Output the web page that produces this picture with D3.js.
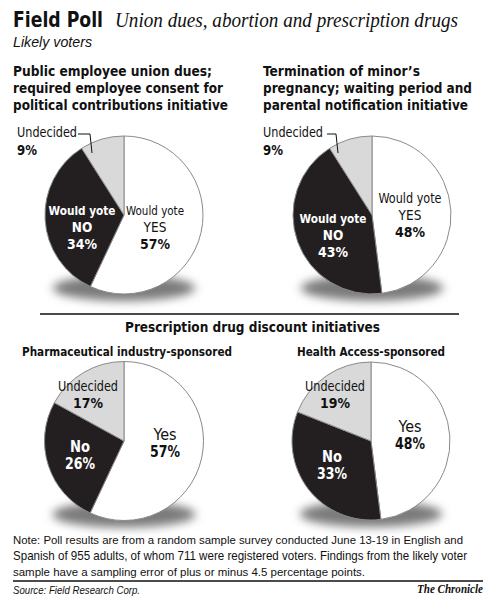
<!DOCTYPE html>
<html><head><meta charset="utf-8">
<script src="https://cdn.jsdelivr.net/npm/d3@7"></script>
<style>
html,body{margin:0;padding:0;background:#fff;}
svg{display:block;}
</style></head>
<body>
<svg id="chart" width="494" height="602"></svg>
<script>
// ---------- DATA ----------
const categories = ["Yes", "No", "Undecided"];
const unionDues = [57, 34, 9];
const minorPregnancy = [48, 43, 9];
const pharmaSponsored = [57, 26, 17];
const healthAccess = [48, 33, 19];

const unionTitle = ["Public employee union dues;", "required employee consent for", "political contributions initiative"];
const pregnancyTitle = ["Termination of minor\u2019s", "pregnancy; waiting period and", "parental notification initiative"];
const pharmaTitle = ["Pharmaceutical industry-sponsored"];
const healthTitle = ["Health Access-sponsored"];

const topLabels = { Yes: ["Would yote", "YES"], No: ["Would yote", "NO"], Undecided: ["Undecided"] };
const bottomLabels = { Yes: ["Yes"], No: ["No"], Undecided: ["Undecided"] };

const noteLines = [
  "Note: Poll results are from a random sample survey conducted June 13-19 in English and",
  "Spanish of 955 adults, of whom 711 were registered voters. Findings from the likely voter",
  "sample have a sampling error of plus or minus 4.5 percentage points."
];

// ---------- LAYOUT / STYLE ----------
const NARROW = "'Liberation Sans Narrow','Arial Narrow','DejaVu Sans Condensed','Liberation Sans',sans-serif";
const SERIF = "'Liberation Serif','DejaVu Serif',serif";
const SANS = "'Liberation Sans',Arial,sans-serif";
const colors = { Yes: "#ffffff", No: "#231f20", Undecided: "#d9d9d9" };
const textColors = { Yes: "#111", No: "#fff", Undecided: "#111" };

const svg = d3.select("#chart");
const defs = svg.append("defs");
const blur = defs.append("filter").attr("id", "shadowBlur").attr("x", "-30%").attr("y", "-100%").attr("width", "160%").attr("height", "300%");
blur.append("feGaussianBlur").attr("stdDeviation", 5);

function txt(g, s, x, y, o) {
  const size = o.size || 14;
  const t = g.append("text").attr("x", x).attr("y", y).text(s)
    .attr("font-family", o.family || NARROW)
    .attr("font-size", size)
    .attr("font-weight", o.weight || "normal")
    .attr("font-style", o.style || "normal")
    .attr("fill", o.fill || "#111")
    .attr("text-anchor", o.anchor || "start");
  if (o.width) {
    const nat = t.node().getComputedTextLength();
    const maxSq = o.maxSq || 1.08;
    if (nat > o.width * maxSq) {
      t.attr("font-size", size * (o.width * maxSq) / nat);
    }
    t.attr("textLength", o.width).attr("lengthAdjust", "spacingAndGlyphs");
  }
  return t;
}

// Header
txt(svg, "Field Poll", 13, 27, { size: 26, weight: "bold", width: 90 });
txt(svg, "Union dues, abortion and prescription drugs", 115, 27, { family: SERIF, size: 21, style: "italic", width: 343 });
txt(svg, "Likely voters", 13, 47, { family: SANS, size: 14, style: "italic", width: 79 });

// Titles
unionTitle.forEach((s, i) => txt(svg, s, 13, 76 + i * 17, { size: 16, weight: "bold", width: [199, 210, 215][i] }));
pregnancyTitle.forEach((s, i) => txt(svg, s, 263, 76 + i * 17, { size: 16, weight: "bold", width: [157, 209, 205][i] }));

// divider
svg.append("line").attr("x1", 40).attr("x2", 459).attr("y1", 314).attr("y2", 314).attr("stroke", "#111").attr("stroke-width", 1.3);
txt(svg, "Prescription drug discount initiatives", 252.5, 332, { size: 16, weight: "bold", anchor: "middle", width: 255 });
txt(svg, pharmaTitle[0], 22, 356, { size: 15.5, weight: "bold", width: 210 });
txt(svg, healthTitle[0], 297, 356, { size: 15.5, weight: "bold", width: 148 });

// ---------- PIES ----------
const pies = [
  { values: unionDues, cx: 124, cy: 215, r: 79, labels: topLabels, lh: 17,
    off: { Yes: [31, 0], No: [-42, 0] }, w: { Yes: 58, No: 67 },
    undecidedOutside: { x: 17, y: 137, leader: [[78, 134], [90, 134], [92, 153]] } },
  { values: minorPregnancy, cx: 372, cy: 215, r: 79, labels: topLabels, lh: 17,
    off: { Yes: [38, -12], No: [-39, 8] }, w: { Yes: 63, No: 67 },
    undecidedOutside: { x: 263, y: 137, leader: [[327, 134], [336, 134], [338, 153]] } },
  { values: pharmaSponsored, cx: 124, cy: 441, r: 79.5, labels: bottomLabels, lh: 16.5,
    off: { Yes: [41, -1], No: [-44, 11], Undecided: [-36, -50] }, w: { Yes: 23, No: 20, Undecided: 60 } },
  { values: healthAccess, cx: 371, cy: 441, r: 79, labels: bottomLabels, lh: 16.5,
    off: { Yes: [39, -9], No: [-39, 21], Undecided: [-36, -50] }, w: { Yes: 23, No: 20, Undecided: 60 } }
];

const pieGen = d3.pie().sort(null).value(d => d.value);

pies.forEach(p => {
  const g = svg.append("g").attr("transform", `translate(${p.cx},${p.cy})`);
  // shadow
  g.append("ellipse").attr("cx", 0).attr("cy", p.r - 6).attr("rx", p.r * 0.9).attr("ry", 13)
    .attr("fill", "#7a7a7a").attr("filter", "url(#shadowBlur)");
  const data = categories.map((c, i) => ({ cat: c, value: p.values[i] }));
  const arcs = pieGen(data);
  const arc = d3.arc().innerRadius(0).outerRadius(p.r);
  g.selectAll("path.slice").data(arcs).join("path")
    .attr("class", "slice")
    .attr("d", arc)
    .attr("fill", d => colors[d.data.cat])
    .attr("stroke", "#8a8a8a")
    .attr("stroke-width", 1)
    .attr("stroke-linejoin", "round");

  arcs.forEach(a => {
    const c = a.data.cat;
    const lines = p.labels[c];
    const pct = a.data.value + "%";
    const pctW = pct.length === 2 ? 20 : 30;
    if (c === "Undecided" && p.undecidedOutside) {
      const u = p.undecidedOutside;
      txt(svg, lines[0], u.x, u.y, { size: 15, width: 60 });
      txt(svg, pct, u.x, u.y + 18, { size: 15.5, weight: "bold", width: pctW });
      svg.append("path").attr("d", d3.line()(u.leader)).attr("fill", "none").attr("stroke", "#111").attr("stroke-width", 1);
      return;
    }
    const [dx, dy] = p.off[c];
    const fill = textColors[c];
    const isNo = c === "No";
    let blockSize = 15;
    lines.forEach((s, i) => {
      const w = i === 0 ? p.w[c] : null;
      const t = txt(g, s, dx, dy + i * p.lh, { size: blockSize, weight: isNo ? "bold" : "normal", anchor: "middle", fill, width: w });
      if (i === 0) blockSize = Math.max(13.5, +t.attr("font-size"));
      else t.attr("font-size", blockSize);
    });
    txt(g, pct, dx, dy + lines.length * p.lh, { size: Math.max(blockSize, 14.5), weight: "bold", anchor: "middle", fill, width: pctW });
  });
});

// ---------- NOTE & FOOTER ----------
noteLines.forEach((s, i) => txt(svg, s, 13, 544 + i * 16, { family: SANS, size: 13, width: [450, 454, 352][i], maxSq: 1.03 }));
svg.append("line").attr("x1", 13).attr("x2", 483).attr("y1", 581).attr("y2", 581).attr("stroke", "#111").attr("stroke-width", 1.3);
txt(svg, "Source: Field Research Corp.", 13, 594, { family: SANS, size: 12.5, style: "italic", width: 127 });
txt(svg, "The Chronicle", 483, 593, { family: SERIF, size: 13, style: "italic", weight: "bold", anchor: "end", width: 66 });
</script>
</body></html>
